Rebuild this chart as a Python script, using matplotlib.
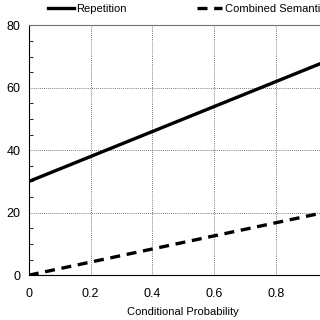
import numpy as np
import matplotlib.pyplot as plt
from matplotlib.ticker import MultipleLocator

plt.rcParams['font.family'] = ['Liberation Sans', 'DejaVu Sans']

# data
cond_prob = [0.0, 1.0]
repetition = [30, 70]
combined_semantic = [0, 21]

fig = plt.figure(figsize=(3.2, 3.2), dpi=100)
ax = fig.add_axes([0.09, 0.14, 0.966, 0.781])

ax.plot(cond_prob, repetition, color='black', lw=2.4, label='Repetition')
ax.plot(cond_prob, combined_semantic, color='black', lw=2.4, ls=(0, (3, 2)),
        label='Combined Semantic')

ax.set_xlim(0, 1)
ax.set_ylim(0, 80)
ax.set_xticks([0, 0.2, 0.4, 0.6, 0.8, 1.0])
ax.set_xticklabels(['0', '0.2', '0.4', '0.6', '0.8', ''])
ax.set_yticks([0, 20, 40, 60, 80])
ax.yaxis.set_minor_locator(MultipleLocator(5))
ax.tick_params(axis='both', which='both', direction='in', labelsize=9)
ax.tick_params(axis='x', length=0, pad=9)
ax.tick_params(axis='y', which='major', length=0, pad=6)
ax.tick_params(axis='y', which='minor', length=3, width=0.6)
ax.grid(True, which='major', ls=(0, (1, 1.5)), lw=0.6, color='0.3')
for s in ax.spines.values():
    s.set_linewidth(0.8)
ax.spines['top'].set_color('0.45')
ax.set_xlabel('Conditional Probability', fontsize=8, labelpad=5)

fig.legend(loc='center left', bbox_to_anchor=(48 / 320, 1 - 9 / 320), ncol=2,
           frameon=False, fontsize=8, handlelength=2.3, handletextpad=0.25,
           columnspacing=6.3, borderaxespad=0, borderpad=0)

fig.savefig('out.png', dpi=100)
